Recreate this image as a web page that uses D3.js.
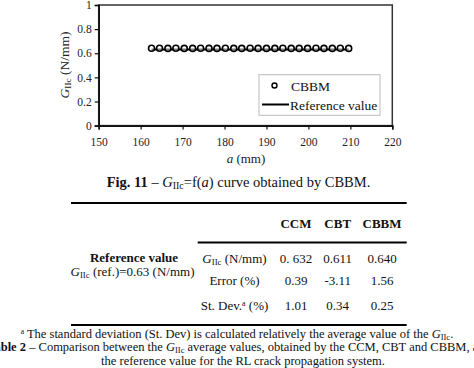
<!DOCTYPE html>
<html>
<head>
<meta charset="utf-8">
<script src="https://cdn.jsdelivr.net/npm/d3@7"></script>
<style>
  body { margin: 0; background: #fff; }
  svg { display: block; font-family: "Liberation Serif", "Times New Roman", serif; }
</style>
</head>
<body>
<script>
// datos de la curva (a en mm, G_IIc en N/mm)
const crackLength = [162.6, 164.5, 166.5, 168.4, 170.4, 172.4, 174.3, 176.3, 178.2, 180.2,
  182.2, 184.1, 186.1, 188.0, 190.0, 192.0, 193.9, 195.9, 197.8, 199.8,
  201.8, 203.7, 205.7, 207.6, 209.6];
const gIIc = [0.641, 0.641, 0.640, 0.641, 0.640, 0.640, 0.641, 0.640, 0.640, 0.641,
  0.640, 0.640, 0.641, 0.640, 0.640, 0.640, 0.641, 0.640, 0.640, 0.640,
  0.641, 0.640, 0.640, 0.641, 0.640];
const referenceValue = 0.63;
const xTicks = [150, 160, 170, 180, 190, 200, 210, 220];
const yTicks = [0, 0.2, 0.4, 0.6, 0.8, 1];

// datos de la tabla
const methods = ["CCM", "CBT", "CBBM"];
const gValues = ["0. 632", "0.611", "0.640"];
const errorValues = ["0.39", "-3.11", "1.56"];
const stdValues = ["1.01", "0.34", "0.25"];

const WIDTH = 474;
const HEIGHT = 368;

const plot = { left: 98.7, right: 392.3, top: 5, bottom: 125.6 };

const svg = d3.select("body")
  .append("svg")
  .attr("width", WIDTH)
  .attr("height", HEIGHT);

const escalaX = d3.scaleLinear()
  .domain([150, 220])
  .range([plot.left, plot.right]);

const escalaY = d3.scaleLinear()
  .domain([0, 1])
  .range([plot.bottom, plot.top]);

// marco del gráfico
svg.append("rect")
  .attr("x", plot.left)
  .attr("y", plot.top)
  .attr("width", plot.right - plot.left)
  .attr("height", plot.bottom - plot.top)
  .attr("fill", "none")
  .attr("stroke", "#333")
  .attr("stroke-width", 1.5);

const ejeX = d3.axisBottom(escalaX)
  .tickValues(xTicks)
  .tickSize(4)
  .tickFormat(d3.format("d"));

const gx = svg.append("g")
  .attr("transform", `translate(0, ${plot.bottom})`)
  .call(ejeX);

const ejeY = d3.axisLeft(escalaY)
  .tickValues(yTicks)
  .tickSize(4)
  .tickFormat(d => d === 0 || d === 1 ? String(d) : d3.format(".1f")(d));

const gy = svg.append("g")
  .attr("transform", `translate(${plot.left}, 0)`)
  .call(ejeY);

[gx, gy].forEach(g => {
  g.select(".domain").attr("stroke", "#111").attr("stroke-width", 1.6);
  g.selectAll(".tick line").attr("stroke", "#111").attr("stroke-width", 1.2);
  g.selectAll(".tick text")
    .attr("fill", "#222")
    .style("font-family", "Liberation Serif, serif")
    .style("font-size", "11.5px");
});
gx.selectAll(".tick text").attr("dy", "1.15em");
gy.selectAll(".tick text").attr("x", -7);

// línea de referencia
svg.append("line")
  .attr("x1", escalaX(crackLength[0]))
  .attr("x2", escalaX(crackLength[crackLength.length - 1]))
  .attr("y1", escalaY(referenceValue))
  .attr("y2", escalaY(referenceValue))
  .attr("stroke", "#000")
  .attr("stroke-width", 2);

// puntos CBBM
svg.append("g")
  .selectAll("circle")
  .data(crackLength)
  .enter()
  .append("circle")
  .attr("cx", d => escalaX(d))
  .attr("cy", (d, i) => escalaY(gIIc[i]))
  .attr("r", 3)
  .attr("fill", "#fff")
  .attr("fill-opacity", 0.5)
  .attr("stroke", "#000")
  .attr("stroke-width", 1.6);

// texto con subíndice
function richText(sel, parts) {
  parts.forEach(p => {
    const t = sel.append("tspan").text(p.t);
    if (p.i) t.style("font-style", "italic");
    if (p.b) t.style("font-weight", "bold");
    if (p.sub) t.attr("baseline-shift", "-22%").style("font-size", "0.68em");
    if (p.sup) t.attr("baseline-shift", "45%").style("font-size", "0.6em");
  });
  return sel;
}

// título eje Y
richText(svg.append("text")
  .attr("transform", "translate(69, 65) rotate(-90)")
  .attr("text-anchor", "middle")
  .attr("fill", "#222")
  .style("font-size", "13.5px"),
  [{ t: "G", i: true }, { t: "IIc", sub: true }, { t: " (N/mm)" }]);

// título eje X
richText(svg.append("text")
  .attr("x", 246)
  .attr("y", 163)
  .attr("text-anchor", "middle")
  .attr("fill", "#222")
  .style("font-size", "13px"),
  [{ t: "a", i: true }, { t: "  (mm)" }]);

// leyenda
const leyenda = svg.append("g");
leyenda.append("rect")
  .attr("x", 259)
  .attr("y", 74.7)
  .attr("width", 121)
  .attr("height", 40.6)
  .attr("fill", "#fff")
  .attr("stroke", "#bbb")
  .attr("stroke-width", 1);
leyenda.append("circle")
  .attr("cx", 274.5).attr("cy", 85.5).attr("r", 2.5)
  .attr("fill", "#fff").attr("stroke", "#000").attr("stroke-width", 1.4);
leyenda.append("text")
  .attr("x", 291).attr("y", 90.5)
  .attr("fill", "#111")
  .style("font-size", "13.5px")
  .text("CBBM");
leyenda.append("line")
  .attr("x1", 262).attr("x2", 289)
  .attr("y1", 104.5).attr("y2", 104.5)
  .attr("stroke", "#000").attr("stroke-width", 2);
leyenda.append("text")
  .attr("x", 290).attr("y", 109.5)
  .attr("fill", "#111")
  .style("font-size", "13.5px")
  .text("Reference value");

// pie de figura
richText(svg.append("text")
  .attr("x", 238.5)
  .attr("y", 186.5)
  .attr("text-anchor", "middle")
  .attr("fill", "#111")
  .style("font-size", "14.5px"),
  [{ t: "Fig. 11", b: true }, { t: " – " }, { t: "G", i: true }, { t: "IIc", sub: true },
   { t: "=f(" }, { t: "a", i: true }, { t: ") curve obtained by CBBM." }]);

// tabla
const colX = [296, 337.7, 382];
const tabla = svg.append("g").attr("fill", "#111").style("font-size", "13px");

tabla.append("line")
  .attr("x1", 71).attr("x2", 406.7).attr("y1", 203).attr("y2", 203)
  .attr("stroke", "#000").attr("stroke-width", 2);
tabla.append("line")
  .attr("x1", 197.7).attr("x2", 406.7).attr("y1", 242.5).attr("y2", 242.5)
  .attr("stroke", "#000").attr("stroke-width", 1.8);
tabla.append("line")
  .attr("x1", 71).attr("x2", 406.7).attr("y1", 325).attr("y2", 325)
  .attr("stroke", "#000").attr("stroke-width", 2);

tabla.selectAll("text.head")
  .data(methods)
  .enter()
  .append("text")
  .attr("class", "head")
  .attr("x", (d, i) => colX[i])
  .attr("y", 227.5)
  .attr("text-anchor", "middle")
  .style("font-weight", "bold")
  .text(d => d);

const filas = [
  { y: 262.5, values: gValues },
  { y: 284.5, values: errorValues },
  { y: 309.5, values: stdValues }
];
filas.forEach(f => {
  tabla.append("g")
    .selectAll("text")
    .data(f.values)
    .enter()
    .append("text")
    .attr("x", (d, i) => colX[i])
    .attr("y", f.y)
    .attr("text-anchor", "middle")
    .text(d => d);
});

richText(tabla.append("text")
  .attr("x", 234.5).attr("y", 262.5).attr("text-anchor", "middle"),
  [{ t: "G", i: true }, { t: "IIc", sub: true }, { t: " (N/mm)" }]);
tabla.append("text")
  .attr("x", 234.5).attr("y", 284.5).attr("text-anchor", "middle")
  .text("Error (%)");
richText(tabla.append("text")
  .attr("x", 234.5).attr("y", 309.5).attr("text-anchor", "middle"),
  [{ t: "St. Dev." }, { t: "a", sup: true }, { t: " (%)" }]);

tabla.append("text")
  .attr("x", 134).attr("y", 262)
  .attr("text-anchor", "middle")
  .style("font-weight", "bold")
  .text("Reference value");
richText(tabla.append("text")
  .attr("x", 132.5).attr("y", 276).attr("text-anchor", "middle"),
  [{ t: "G", i: true }, { t: "IIc", sub: true }, { t: " (ref.)=0.63 (N/mm)" }]);

// notas al pie
const notas = svg.append("g").attr("fill", "#111").style("font-size", "12.5px");
richText(notas.append("text")
  .attr("x", 237).attr("y", 337.5).attr("text-anchor", "middle"),
  [{ t: "a", sup: true }, { t: " The standard deviation (St. Dev) is calculated relatively the average value of the " },
   { t: "G", i: true }, { t: "IIc", sub: true }, { t: "." }]);
richText(notas.append("text")
  .attr("x", 239).attr("y", 351).attr("text-anchor", "middle"),
  [{ t: "Table 2", b: true }, { t: " – Comparison between the " }, { t: "G", i: true }, { t: "IIc", sub: true },
   { t: " average values, obtained by the CCM, CBT and CBBM, and" }]);
notas.append("text")
  .attr("x", 243).attr("y", 364.5)
  .attr("text-anchor", "middle")
  .text("the reference value for the RL crack propagation system.");
</script>
</body>
</html>
